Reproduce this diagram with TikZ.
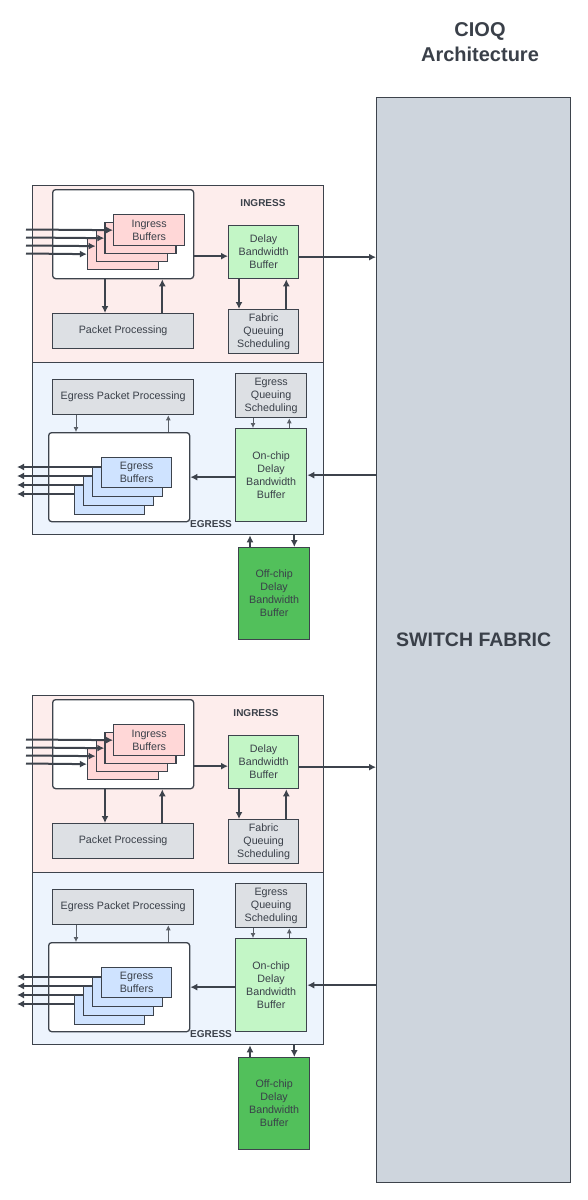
\documentclass[tikz,border=0pt]{standalone}
\usepackage{fontspec}
\setmainfont{Liberation Sans}
\usetikzlibrary{arrows.meta}

\definecolor{edge}{HTML}{3D434C}
\definecolor{txt}{HTML}{3A4049}
\definecolor{ingfill}{HTML}{FDEDEC}
\definecolor{egrfill}{HTML}{EDF4FD}
\definecolor{inbuf}{HTML}{FFD7D7}
\definecolor{egbuf}{HTML}{CFE3FF}
\definecolor{ltgreen}{HTML}{C3F6C6}
\definecolor{dkgreen}{HTML}{52C05B}
\definecolor{procgray}{HTML}{DDE0E4}
\definecolor{fabricgray}{HTML}{CED5DD}

\tikzset{
	blk/.style={draw=edge, line width=1.3pt, inner sep=0pt, anchor=north west, text=txt, font=\fontsize{10.7}{13}\selectfont, align=center},
	flow/.style={draw=edge, line width=2pt, -{Latex[length=7pt,width=7pt]}},
	thinflow/.style={draw=edge!85, line width=0.8pt, -{Latex[length=5pt,width=5pt]}},
	tag/.style={text=txt, font=\fontsize{10}{12}\selectfont\bfseries},
}

\begin{document}
\begin{tikzpicture}[x=1pt,y=-1pt]
	\useasboundingbox (0,0) rectangle (588,1200);

	\node[text=txt, align=center, font=\fontsize{20}{25}\selectfont\bfseries] (title) at (480,42) {CIOQ\\Architecture};
	\node[blk, fill=fabricgray, minimum width=194pt, minimum height=1085pt, font=\fontsize{19.5}{22}\selectfont\bfseries] (fabric) at (376,97) {SWITCH FABRIC};

	\foreach \u/\dy/\ix in {a/0/263,b/510/256} {
	\begin{scope}[shift={(0,\dy)}]
		\node[blk, fill=ingfill, minimum width=291pt, minimum height=177pt] (ing\u) at (32,185) {};
		\node[blk, fill=egrfill, minimum width=291pt, minimum height=172pt] (egr\u) at (32,362) {};
		\node[tag] (ingtag\u) at (\ix,203) {INGRESS};

		\node[blk, fill=white, rounded corners=3pt, minimum width=141pt, minimum height=89pt] (inwin\u) at (52,189) {};
		\foreach \k in {3,2,1} {
			\node[blk, fill=inbuf, minimum width=71pt, minimum height=31pt] (inbuf\u\k) at ({113-8.7*\k},{214+8*\k}) {};
		}
		\node[blk, fill=inbuf, minimum width=71pt, minimum height=31pt] (inbuf\u0) at (113,214) {Ingress\\Buffers};
		\foreach \k in {0,1,2,3} {
			\coordinate (in\u\k) at (26,{229.5+8*\k});
			\draw[flow] (in\u\k) -- (inbuf\u\k.west);
		}

		\node[blk, fill=ltgreen, minimum width=70pt, minimum height=53pt] (dbb\u) at (228,225) {Delay\\Bandwidth\\Buffer};
		\node[blk, fill=procgray, minimum width=70pt, minimum height=44pt] (fqs\u) at (228,309) {Fabric\\Queuing\\Scheduling};
		\node[blk, fill=procgray, minimum width=141pt, minimum height=35pt] (pp\u) at (52,313) {Packet Processing};

		\draw[flow] ([yshift=-4pt]dbb\u.west -| inwin\u.east) -- ([yshift=-4pt]dbb\u.west);
		\draw[flow] ([yshift=-5pt]dbb\u.east) -- ([yshift=-5pt]dbb\u.east -| fabric.west);
		\draw[flow] ([xshift=11pt]dbb\u.south west) -- ([xshift=11pt]fqs\u.north west);
		\draw[flow] ([xshift=-13pt]fqs\u.north east) -- ([xshift=-13pt]dbb\u.south east);
		\draw[flow] ([xshift=53pt]inwin\u.south west) -- ([xshift=53pt]pp\u.north west);
		\draw[flow] ([xshift=-32pt]pp\u.north east) -- ([xshift=-32pt]inwin\u.south east);

		\node[blk, fill=procgray, minimum width=141pt, minimum height=35pt] (epp\u) at (52,379) {Egress Packet Processing};
		\node[blk, fill=procgray, minimum width=71pt, minimum height=44pt] (eqs\u) at (235,373) {Egress\\Queuing\\Scheduling};
		\node[blk, fill=ltgreen, minimum width=71pt, minimum height=93pt] (ocb\u) at (235,428) {On-chip\\Delay\\Bandwidth\\Buffer};
		\node[blk, fill=white, rounded corners=3pt, minimum width=141pt, minimum height=89pt] (outwin\u) at (48,432) {};
		\foreach \k in {3,2,1} {
			\node[blk, fill=egbuf, minimum width=70pt, minimum height=30pt] (egbuf\u\k) at ({101-9*\k},{457+9*\k}) {};
		}
		\node[blk, fill=egbuf, minimum width=70pt, minimum height=30pt] (egbuf\u0) at (101,457) {Egress\\Buffers};
		\foreach \k in {0,1,2,3} {
			\coordinate (out\u\k) at (17,{467+9*\k});
			\draw[flow] (egbuf\u\k.west |- out\u\k) -- (out\u\k);
		}
		\node[tag] (egrtag\u) at (211,524) {EGRESS};

		\draw[flow] ([yshift=-2pt]ocb\u.west) -- ([yshift=-2pt]ocb\u.west -| outwin\u.east);
		\draw[flow] (ocb\u.east -| fabric.west) -- (ocb\u.east);
		\draw[thinflow] ([xshift=24pt]epp\u.south west) -- ([xshift=24pt]epp\u.south west |- outwin\u.north);
		\draw[thinflow] ([xshift=-26pt]epp\u.south east |- outwin\u.north) -- ([xshift=-26pt]epp\u.south east);
		\draw[thinflow] ([xshift=18pt]eqs\u.south west) -- ([xshift=18pt]ocb\u.north west);
		\draw[thinflow] ([xshift=-18pt]ocb\u.north east) -- ([xshift=-18pt]eqs\u.south east);

		\node[blk, fill=dkgreen, minimum width=71pt, minimum height=92pt] (ofb\u) at (238,547) {Off-chip\\Delay\\Bandwidth\\Buffer};
		\draw[flow] ([xshift=12pt]ofb\u.north west) -- ([xshift=12pt]ofb\u.north west |- egr\u.south);
		\draw[flow] ([xshift=-16pt]ofb\u.north east |- egr\u.south) -- ([xshift=-16pt]ofb\u.north east);
	\end{scope}
	}
\end{tikzpicture}
\end{document}
